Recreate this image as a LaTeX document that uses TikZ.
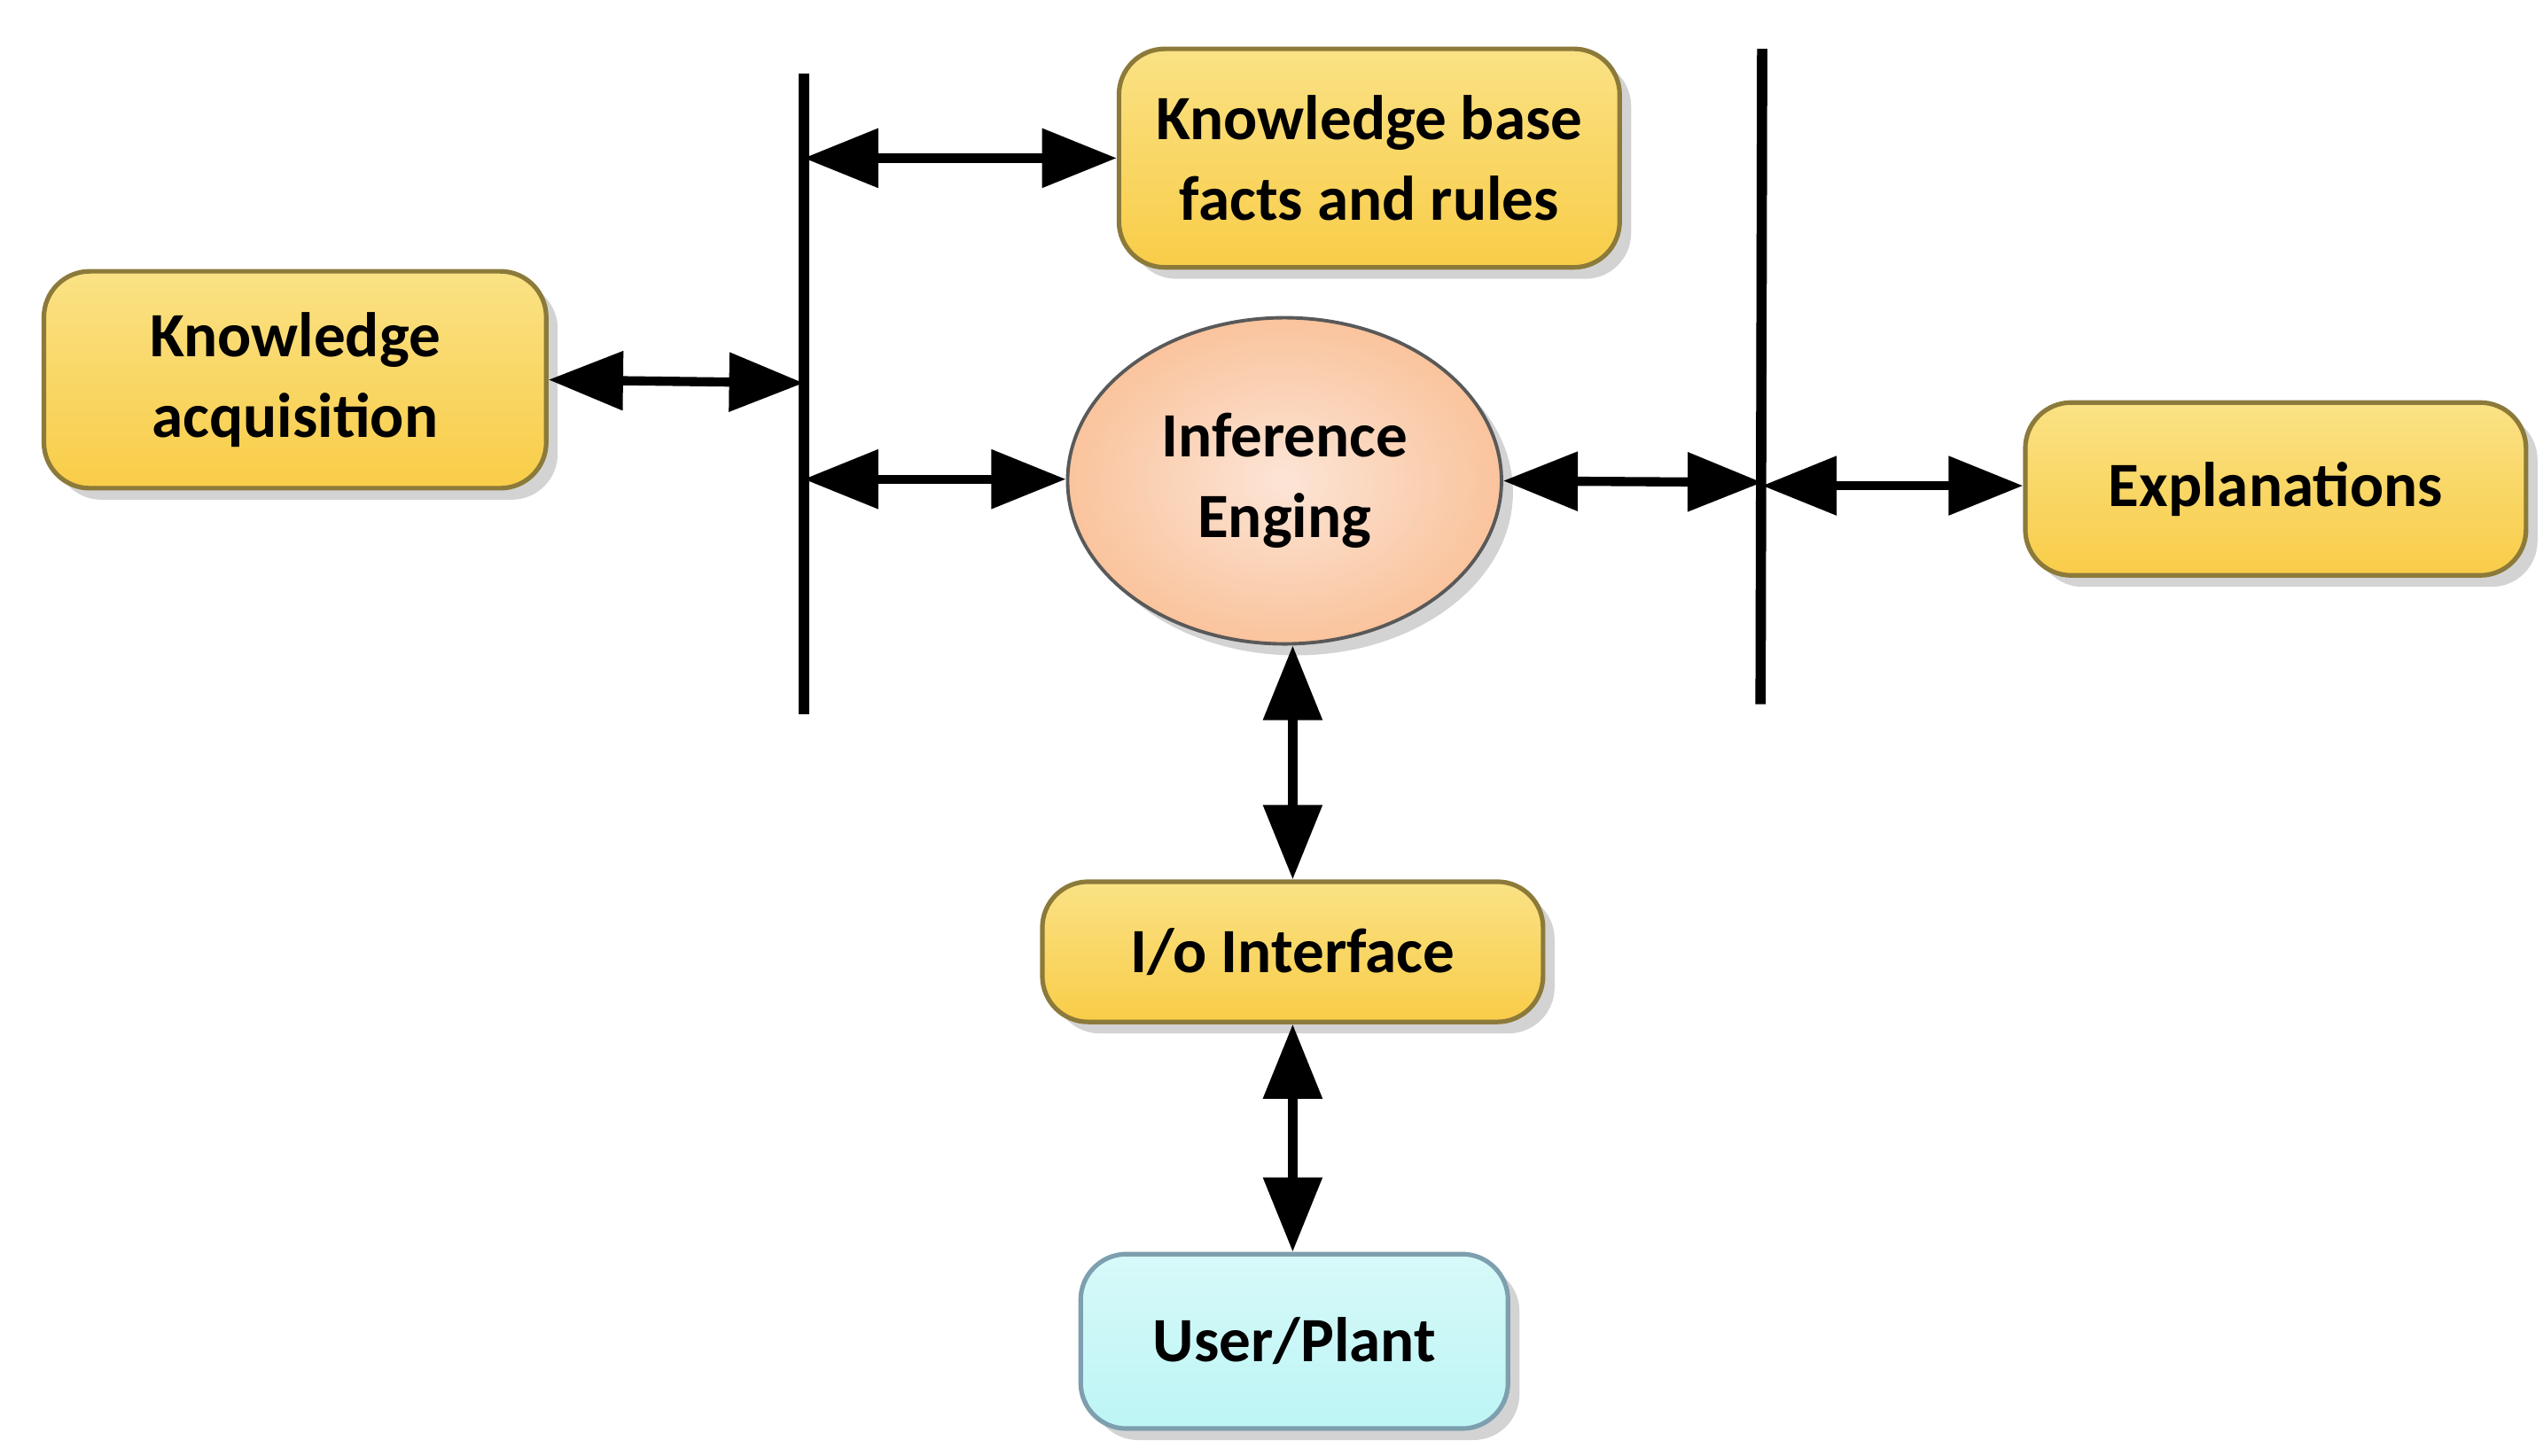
\documentclass[tikz,border=0pt]{standalone}
\usepackage{fontspec}
\setmainfont{Carlito}
\usetikzlibrary{arrows.meta,shapes.geometric,shadows}
\definecolor{ybox}{HTML}{F8D550}
\definecolor{ybord}{HTML}{8C7A3A}
\definecolor{peach}{HTML}{F9CBAE}
\definecolor{cyanb}{HTML}{BDF5F5}
\begin{document}
\begin{tikzpicture}[x=0.01cm,y=-0.01cm,
  box/.style={draw=ybord,line width=0.8pt,rounded corners=8pt,top color=ybox!70!white,bottom color=ybox!90!orange,
    drop shadow={shadow xshift=2pt,shadow yshift=-2pt,opacity=0.35},align=center,font=\bfseries\fontsize{11}{14}\selectfont},
  arr/.style={line width=1.6pt,{Triangle[length=13pt,width=10pt]}-{Triangle[length=13pt,width=10pt]}},
  bar/.style={line width=1.8pt}]
\useasboundingbox (0,0) rectangle (1560,893);
\node[box,minimum width=308\pgflinewidth*0+3.08cm,minimum height=1.33cm] (ka) at (181,233) {Knowledge\\acquisition};
\node[box,minimum width=3.07cm,minimum height=1.34cm] (kb) at (840,97) {Knowledge base\\facts and rules};
\node[box,minimum width=3.07cm,minimum height=1.06cm] (ex) at (1396,300) {Explanations};
\node[box,minimum width=3.07cm,minimum height=0.86cm] (io) at (793,584) {I/o Interface};
\node[box,draw=gray!70!cyan,top color=cyanb!60!white,bottom color=cyanb,minimum width=2.62cm,minimum height=1.07cm] (up) at (794,823) {User/Plant};
\node[ellipse,draw=gray!70!black,line width=0.6pt,inner color=peach!50!white,outer color=peach!90!orange,
  drop shadow={shadow xshift=2pt,shadow yshift=-2pt,opacity=0.35},
  minimum width=2.66cm,minimum height=2.0cm,align=center,font=\bfseries\fontsize{11}{14}\selectfont] (ie) at (788,295) {Inference\\Enging};
\coordinate (lt) at (493,45); \coordinate (lb) at (493,438);
\coordinate (rt) at (1081,30); \coordinate (rb) at (1080,432);
\draw[bar] (lt) -- (lb);
\draw[bar] (rt) -- (rb);
\coordinate (l1) at (493,97); \coordinate (l2) at (493,235); \coordinate (l3) at (493,294);
\coordinate (r1) at (1081,296); \coordinate (r2) at (1081,298);
\draw[arr] (ka.east) -- (l2);
\draw[arr] (l1) -- (kb.west|-l1);
\draw[arr] (l3) -- (ie.west|-l3);
\draw[arr] (ie.east) -- (r1);
\draw[arr] (r2) -- (ex.west|-r2);
\draw[arr] (ie.south-|io) -- (io.north);
\draw[arr] (io.south) -- (up.north-|io);
\end{tikzpicture}
\end{document}
